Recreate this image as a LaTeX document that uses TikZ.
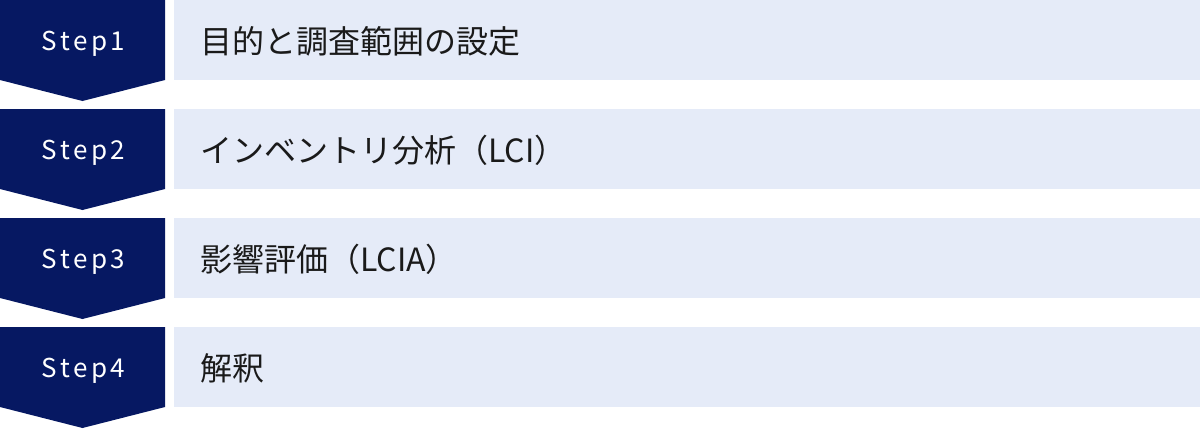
\documentclass[tikz,border=0pt]{standalone}
\usepackage{fontspec}
\setmainfont{Noto Sans CJK JP}
\newfontfamily\jpfont{Noto Sans CJK JP}
\newfontfamily\stepfont[LetterSpace=14]{Noto Sans CJK JP}
\definecolor{navy}{HTML}{061862}
\definecolor{barblue}{HTML}{E5EBF8}
\definecolor{ink}{HTML}{1A1A1A}
\tikzset{
  chevron/.style={fill=navy, draw=none},
  bar/.style={fill=barblue, draw=none},
  steplabel/.style={text=white, font=\stepfont\fontsize{26}{30}\selectfont, inner sep=0pt, anchor=base},
  barlabel/.style={text=ink, font=\jpfont\fontsize{32}{36}\selectfont, anchor=base west, inner sep=0pt}
}
\begin{document}
\begin{tikzpicture}[x=1pt,y=-1pt]
\useasboundingbox (0,0) rectangle (1200,429);
\foreach \i/\t in {1/目的と調査範囲の設定,2/インベントリ分析（LCI）,3/影響評価（LCIA）,4/解釈}{
  \pgfmathsetmacro{\yo}{(\i-1)*109}
  \fill[chevron] (0,\yo) -- (165,\yo) -- (165,\yo+80) -- (82.5,\yo+101) -- (0,\yo+80) -- cycle;
  \fill[bar] (174,\yo) rectangle (1200,\yo+80);
  \node[steplabel] (s\i) at (83.5,\yo+50) {Step\i};
  \node[barlabel] (b\i) at (200,\yo+53) {\t};
}
\end{tikzpicture}
\end{document}
